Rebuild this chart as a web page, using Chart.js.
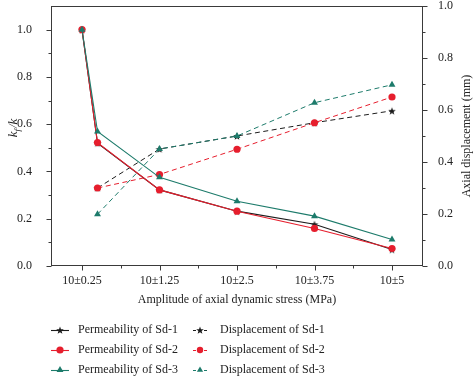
<!DOCTYPE html>
<html><head><meta charset="utf-8">
<script src="https://cdn.jsdelivr.net/npm/chart.js@4/dist/chart.umd.min.js"></script>
<style>html,body{margin:0;padding:0;background:#fff}#wrap{width:474px;height:378px;position:relative}</style>
</head><body><div id="wrap"><canvas id="c" width="474" height="378"></canvas></div>
<script>
// ---- data ----
const xTickValues = [0, 1.25, 2.5, 3.75, 5];
const xTickLabels = ['10±0.25', '10±1.25', '10±2.5', '10±3.75', '10±5'];
const permAmp = [0, 0.25, 1.25, 2.5, 3.75, 5];
const dispAmp = [0.25, 1.25, 2.5, 3.75, 5];
const permSd1 = [1.0, 0.52, 0.322, 0.232, 0.177, 0.070];
const permSd2 = [1.0, 0.522, 0.322, 0.232, 0.159, 0.074];
const permSd3 = [1.0, 0.569, 0.375, 0.274, 0.211, 0.112];
const dispSd1 = [0.300, 0.450, 0.500, 0.551, 0.597];
const dispSd2 = [0.300, 0.352, 0.449, 0.551, 0.650];
const dispSd3 = [0.199, 0.450, 0.500, 0.628, 0.697];
const leftTicks = [0, 0.2, 0.4, 0.6, 0.8, 1.0];
const rightTicks = [0, 0.2, 0.4, 0.6, 0.8, 1.0];
const seriesNames = ['Permeability of Sd-1', 'Permeability of Sd-2', 'Permeability of Sd-3',
                     'Displacement of Sd-1', 'Displacement of Sd-2', 'Displacement of Sd-3'];
const xTitle = 'Amplitude of axial dynamic stress (MPa)';
const rightTitle = 'Axial displacement (mm)';

// ---- styles ----
const BLACK = '#1c1c1c', RED = '#e61e2d', TEAL = '#1d7b6b';
const FONT = '"Liberation Serif", "DejaVu Serif", serif';
const AX = '#3a3a3a';
const TARGET = { left: 51, right: 423, top: 6, bottom: 266 };

function makeStar(color, r) {
  const s = Math.ceil(r * 2 + 2);
  const c = document.createElement('canvas'); c.width = s; c.height = s;
  const g = c.getContext('2d'); g.fillStyle = color; g.beginPath();
  for (let i = 0; i < 10; i++) {
    const rad = i % 2 ? r * 0.42 : r;
    const a = -Math.PI / 2 + i * Math.PI / 5;
    g.lineTo(s / 2 + rad * Math.cos(a), s / 2 + rad * Math.sin(a) + 0.5);
  }
  g.closePath(); g.fill();
  return c;
}
const starImg = makeStar(BLACK, 4);

const mk = (xs, ys) => xs.map((x, i) => ({ x: x, y: ys[i] }));
const colors = [BLACK, RED, TEAL];
const styles = [starImg, 'circle', 'triangle'];
const radii = [4, 3.6, 4];
const permData = [permSd1, permSd2, permSd3];
const dispData = [dispSd1, dispSd2, dispSd3];
const permOrder = [3, 2, 1];
const dispOrder = [6, 5, 4];
const datasets = [];
for (let i = 0; i < 3; i++) {
  datasets.push({
    label: seriesNames[i], data: mk(permAmp, permData[i]), yAxisID: 'y',
    borderColor: colors[i], backgroundColor: colors[i], borderWidth: 1.1,
    pointStyle: styles[i], pointRadius: radii[i], pointBorderWidth: 0,
    pointBackgroundColor: colors[i], order: permOrder[i], tension: 0
  });
}
for (let i = 0; i < 3; i++) {
  datasets.push({
    label: seriesNames[3 + i], data: mk(dispAmp, dispData[i]), yAxisID: 'y2',
    borderColor: colors[i], backgroundColor: colors[i], borderWidth: 1,
    borderDash: [5, 3.5],
    pointStyle: styles[i], pointRadius: radii[i], pointBorderWidth: 0,
    pointBackgroundColor: colors[i], order: dispOrder[i], tension: 0
  });
}

function drawMarker(ctx, style, color, r, x, y) {
  if (style instanceof HTMLCanvasElement) {
    ctx.drawImage(style, x - style.width / 2, y - style.height / 2);
    return;
  }
  ctx.fillStyle = color; ctx.beginPath();
  if (style === 'circle') { ctx.arc(x, y, r, 0, Math.PI * 2); }
  else {
    for (let k = 0; k < 3; k++) {
      const a = -Math.PI / 2 + k * 2 * Math.PI / 3;
      ctx.lineTo(x + r * Math.cos(a), y + r * Math.sin(a));
    }
    ctx.closePath();
  }
  ctx.fill();
}

const decor = {
  id: 'decor',
  afterDraw(chart) {
    const ctx = chart.ctx, a = chart.chartArea;
    const sx = chart.scales.x, sy = chart.scales.y, sy2 = chart.scales.y2;
    ctx.save();
    ctx.strokeStyle = AX; ctx.lineWidth = 1;
    const L = Math.round(a.left) + 0.5, R = Math.round(a.right) - 0.5;
    const T = Math.round(a.top) + 0.5, B = Math.round(a.bottom) - 0.5;
    ctx.strokeRect(L, T, R - L, B - T);
    ctx.beginPath();
    xTickValues.forEach(v => { const p = Math.round(sx.getPixelForValue(v)) + 0.5; ctx.moveTo(p, B); ctx.lineTo(p, B + 5); });
    for (let i = 0; i < xTickValues.length - 1; i++) {
      const v = (xTickValues[i] + xTickValues[i + 1]) / 2;
      const p = Math.round(sx.getPixelForValue(v)) + 0.5; ctx.moveTo(p, B); ctx.lineTo(p, B + 3);
    }
    leftTicks.forEach(v => { const p = Math.round(sy.getPixelForValue(v)) + 0.5; ctx.moveTo(L, p); ctx.lineTo(L - 5, p); });
    for (let i = 0; i < leftTicks.length - 1; i++) {
      const v = (leftTicks[i] + leftTicks[i + 1]) / 2;
      const p = Math.round(sy.getPixelForValue(v)) + 0.5; ctx.moveTo(L, p); ctx.lineTo(L - 3, p);
    }
    rightTicks.forEach(v => { const p = Math.round(sy2.getPixelForValue(v)) + 0.5; ctx.moveTo(R, p); ctx.lineTo(R + 5, p); });
    for (let i = 0; i < rightTicks.length - 1; i++) {
      const v = (rightTicks[i] + rightTicks[i + 1]) / 2;
      const p = Math.round(sy2.getPixelForValue(v)) + 0.5; ctx.moveTo(R, p); ctx.lineTo(R + 3, p);
    }
    ctx.stroke();

    ctx.fillStyle = '#222';
    ctx.font = '12px ' + FONT;
    ctx.textAlign = 'center'; ctx.textBaseline = 'middle';
    // x tick labels
    xTickValues.forEach((v, i) => ctx.fillText(xTickLabels[i], sx.getPixelForValue(v), 281));
    ctx.fillText(xTitle, (a.left + a.right) / 2, 300);
    ctx.save();
    ctx.translate(467, (a.top + a.bottom) / 2);
    ctx.rotate(-Math.PI / 2);
    ctx.fillText(rightTitle, 0, 0);
    ctx.restore();
    // k_f/k
    ctx.save();
    ctx.translate(13, 128);
    ctx.rotate(-Math.PI / 2);
    ctx.textAlign = 'left'; ctx.textBaseline = 'alphabetic';
    ctx.font = 'italic 13px ' + FONT;
    const w1 = ctx.measureText('k').width;
    ctx.font = 'italic 9px ' + FONT;
    const w2 = ctx.measureText('f').width;
    ctx.font = 'italic 13px ' + FONT;
    const w3 = ctx.measureText('/k').width;
    let x0 = -(w1 + w2 + w3 + 1) / 2;
    ctx.fillText('k', x0, 4);
    ctx.font = 'italic 9px ' + FONT;
    ctx.fillText('f', x0 + w1, 7);
    ctx.font = 'italic 13px ' + FONT;
    ctx.fillText('/k', x0 + w1 + w2 + 1, 4);
    ctx.restore();

    // legend
    ctx.font = '12px ' + FONT;
    ctx.textAlign = 'left'; ctx.textBaseline = 'middle';
    const rowsY = [330, 350, 370];
    for (let i = 0; i < 3; i++) {
      const y = rowsY[i];
      ctx.strokeStyle = colors[i]; ctx.lineWidth = 1.1; ctx.setLineDash([]);
      ctx.beginPath(); ctx.moveTo(51, y + 0.5); ctx.lineTo(69, y + 0.5); ctx.stroke();
      drawMarker(ctx, styles[i], colors[i], radii[i], 60, y);
      ctx.fillStyle = '#222';
      ctx.fillText(seriesNames[i], 78, y);
      ctx.strokeStyle = colors[i]; ctx.lineWidth = 1;
      ctx.beginPath(); ctx.moveTo(193, y + 0.5); ctx.lineTo(196, y + 0.5);
      ctx.moveTo(204, y + 0.5); ctx.lineTo(207, y + 0.5); ctx.stroke();
      drawMarker(ctx, styles[i], colors[i], radii[i] - 0.4, 200, y);
      ctx.fillStyle = '#222';
      ctx.fillText(seriesNames[3 + i], 220, y);
    }
    ctx.restore();
  }
};

// Pin the plot area to the reference frame after Chart.js has laid out the boxes.
const pinArea = {
  id: 'pinArea',
  afterLayout(chart) {
    const ca = chart.chartArea;
    Object.assign(ca, TARGET);
    ca.width = TARGET.right - TARGET.left; ca.height = TARGET.bottom - TARGET.top;
    const sx = chart.scales.x, sy = chart.scales.y, sy2 = chart.scales.y2;
    sx.left = TARGET.left; sx.right = TARGET.right; sx.width = sx.right - sx.left;
    sx.top = TARGET.bottom; sx.bottom = TARGET.bottom + 30; sx.height = 30;
    [sy, sy2].forEach(s => { s.top = TARGET.top; s.bottom = TARGET.bottom; s.height = s.bottom - s.top; });
    sy.left = 0; sy.right = TARGET.left; sy.width = TARGET.left;
    sy2.left = TARGET.right; sy2.right = 474; sy2.width = 474 - TARGET.right;
    [sx, sy, sy2].forEach(s => s.configure());
  }
};

new Chart(document.getElementById('c'), {
  type: 'line',
  data: { datasets: datasets },
  options: {
    responsive: false, animation: false, devicePixelRatio: 1,
    layout: { padding: { top: 0, right: 0, left: 0, bottom: 82 } },
    plugins: { legend: { display: false }, tooltip: { enabled: false } },
    scales: {
      x: {
        type: 'linear', min: -0.5, max: 5.5,
        grid: { display: false }, border: { display: false },
        afterBuildTicks: s => { s.ticks = xTickValues.map(v => ({ value: v })); },
        ticks: { display: false }
      },
      y: {
        type: 'linear', position: 'left', min: 0, max: 1.1,
        grid: { display: false }, border: { display: false },
        afterBuildTicks: s => { s.ticks = leftTicks.map(v => ({ value: v })); },
        ticks: { padding: 11, color: '#222', font: { family: FONT, size: 12 },
                 callback: v => Number(v).toFixed(1) },
        afterFit: s => { s.width = 51; }
      },
      y2: {
        type: 'linear', position: 'right', min: 0, max: 1.0,
        grid: { display: false }, border: { display: false },
        afterBuildTicks: s => { s.ticks = rightTicks.map(v => ({ value: v })); },
        ticks: { padding: 7, color: '#222', font: { family: FONT, size: 12 },
                 callback: v => Number(v).toFixed(1) },
        afterFit: s => { s.width = 51; }
      }
    }
  },
  plugins: [pinArea, decor]
});
</script>
</body></html>
